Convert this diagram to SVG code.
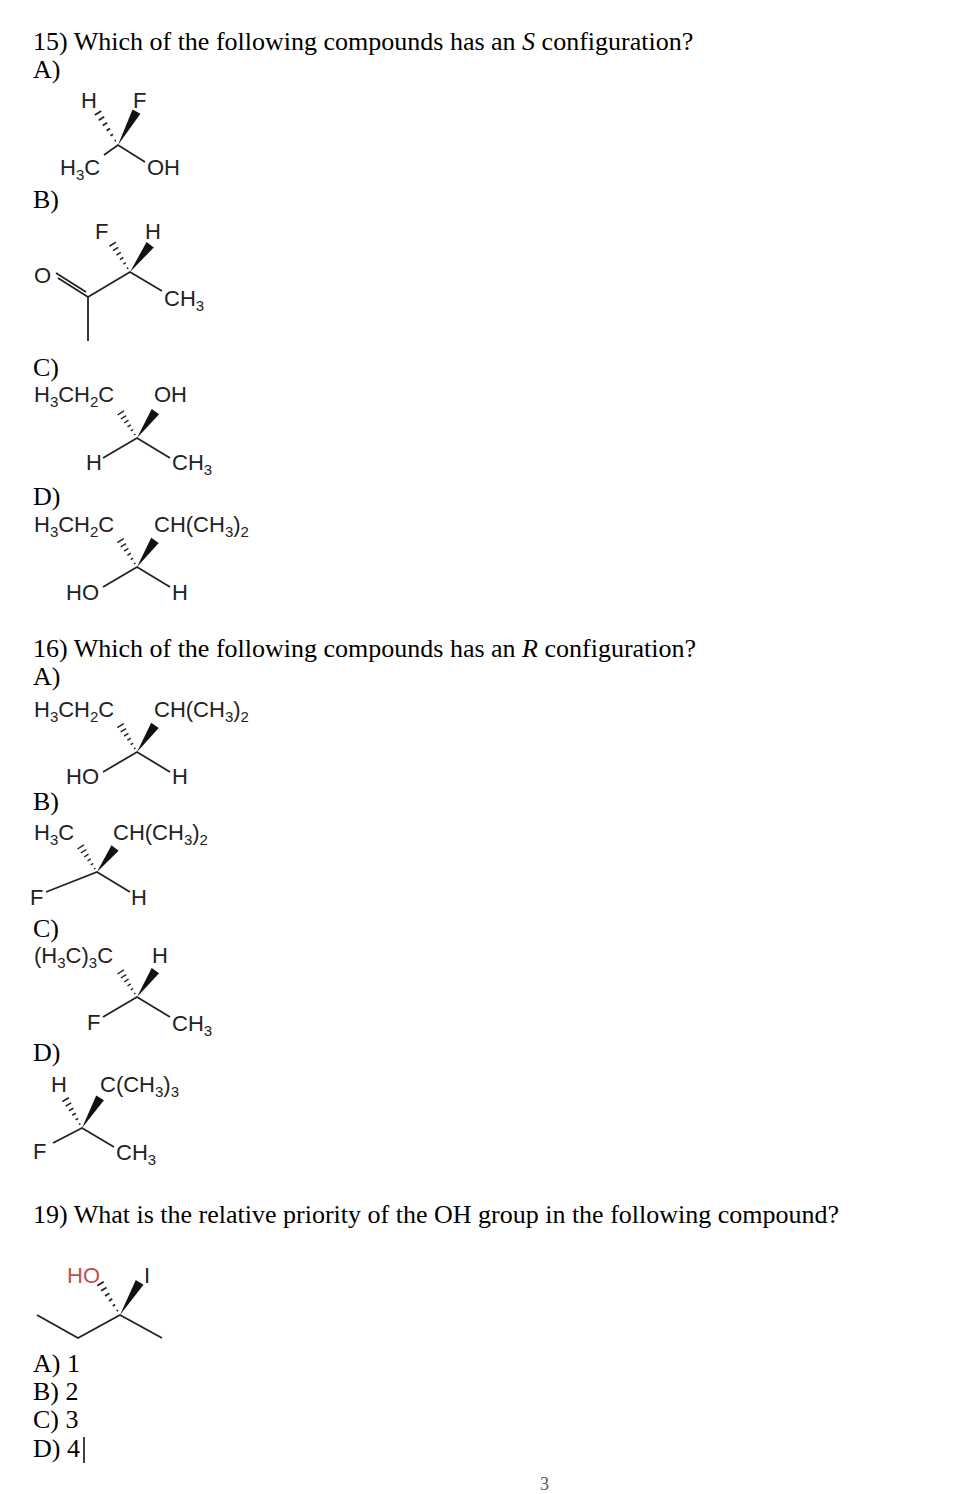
<svg xmlns="http://www.w3.org/2000/svg" xmlns:xlink="http://www.w3.org/1999/xlink" width="960" height="1494" viewBox="0 0 960 1494">
<style>
.q{font-family:"Liberation Serif",serif;font-size:26px;fill:#000}
.l{font-family:"Liberation Sans",Arial,sans-serif;font-size:22px;fill:#222}
.s{font-size:15px}
.b{stroke:#222;stroke-width:1.8;fill:none}
</style>
<defs>
<g id="hw" stroke="#222" stroke-width="1.4">
<line x1="4" y1="-0.8" x2="4" y2="0.8"/><line x1="9" y1="-1.4" x2="9" y2="1.4"/><line x1="14" y1="-2" x2="14" y2="2"/><line x1="19" y1="-2.6" x2="19" y2="2.6"/><line x1="24" y1="-3.2" x2="24" y2="3.2"/><line x1="29" y1="-3.8" x2="29" y2="3.8"/>
</g>
<polygon id="sw" points="0,0 30,-4.5 30,4.5" fill="#111"/>
</defs>
<rect width="960" height="1494" fill="#fff"/>

<text class="q" x="33" y="50">15) Which of the following compounds has an <tspan font-style="italic">S</tspan> configuration?</text>
<text class="q" x="33" y="78">A)</text>
<g id="q15a">
<use xlink:href="#hw" transform="translate(118,145) rotate(-122) scale(1.3,1)"/>
<use xlink:href="#sw" transform="translate(118,145) rotate(-61) scale(1.27,1)"/>
<path class="b" d="M104,155 L118,145 L145,162"/>
<text class="l" x="81" y="108">H</text><text class="l" x="133" y="108">F</text>
<text class="l" x="60" y="175">H<tspan class="s" dy="5">3</tspan><tspan dy="-5">C</tspan></text>
<text class="l" x="147" y="175">OH</text>
</g>
<text class="q" x="33" y="208">B)</text>
<g id="q15b">
<use xlink:href="#hw" transform="translate(130,272) rotate(-122) scale(1.13,1)"/>
<use xlink:href="#sw" transform="translate(130,272) rotate(-53.5) scale(1.13,1)"/>
<path class="b" d="M88,297 L130,272 L162,291"/>
<path class="b" d="M88,297 L58,278 M86,292 L56,273"/>
<path class="b" d="M88,297 L88,341"/>
<text class="l" x="34" y="283">O</text>
<text class="l" x="95" y="239">F</text><text class="l" x="145" y="239">H</text>
<text class="l" x="164" y="306">CH<tspan class="s" dy="5">3</tspan></text>
</g>
<text class="q" x="33" y="376">C)</text>
<g id="q15c">
<use xlink:href="#hw" transform="translate(137,438) rotate(-123) scale(1.03,1)"/>
<use xlink:href="#sw" transform="translate(137,438) rotate(-55) scale(1.07,1)"/>
<path class="b" d="M103,458 L137,438 L170,458"/>
<text class="l" x="34" y="402">H<tspan class="s" dy="5">3</tspan><tspan dy="-5">CH</tspan><tspan class="s" dy="5">2</tspan><tspan dy="-5">C</tspan></text>
<text class="l" x="154" y="402">OH</text>
<text class="l" x="86" y="470">H</text>
<text class="l" x="172" y="470">CH<tspan class="s" dy="5">3</tspan></text>
</g>
<text class="q" x="33" y="505">D)</text>
<g id="q15d">
<use xlink:href="#hw" transform="translate(137,567) rotate(-122) scale(1.07,1)"/>
<use xlink:href="#sw" transform="translate(137,567) rotate(-56) scale(1.07,1)"/>
<path class="b" d="M103,587 L137,567 L170,587"/>
<text class="l" x="34" y="532">H<tspan class="s" dy="5">3</tspan><tspan dy="-5">CH</tspan><tspan class="s" dy="5">2</tspan><tspan dy="-5">C</tspan></text>
<text class="l" x="154" y="532">CH(CH<tspan class="s" dy="5">3</tspan><tspan dy="-5">)</tspan><tspan class="s" dy="5">2</tspan></text>
<text class="l" x="66" y="600">HO</text>
<text class="l" x="172" y="600">H</text>
</g>

<text class="q" x="33" y="657">16) Which of the following compounds has an <tspan font-style="italic">R</tspan> configuration?</text>
<text class="q" x="33" y="685">A)</text>
<g id="q16a">
<use xlink:href="#hw" transform="translate(137,752) rotate(-122) scale(1.07,1)"/>
<use xlink:href="#sw" transform="translate(137,752) rotate(-56) scale(1.07,1)"/>
<path class="b" d="M103,772 L137,752 L170,772"/>
<text class="l" x="34" y="717">H<tspan class="s" dy="5">3</tspan><tspan dy="-5">CH</tspan><tspan class="s" dy="5">2</tspan><tspan dy="-5">C</tspan></text>
<text class="l" x="154" y="717">CH(CH<tspan class="s" dy="5">3</tspan><tspan dy="-5">)</tspan><tspan class="s" dy="5">2</tspan></text>
<text class="l" x="66" y="784">HO</text>
<text class="l" x="172" y="784">H</text>
</g>
<text class="q" x="33" y="810">B)</text>
<g id="q16b">
<use xlink:href="#hw" transform="translate(97,872) rotate(-123) scale(1.03,1)"/>
<use xlink:href="#sw" transform="translate(97,872) rotate(-53) scale(1.0,1)"/>
<path class="b" d="M46,892 L97,872 L130,892"/>
<text class="l" x="34" y="840">H<tspan class="s" dy="5">3</tspan><tspan dy="-5">C</tspan></text>
<text class="l" x="113" y="840">CH(CH<tspan class="s" dy="5">3</tspan><tspan dy="-5">)</tspan><tspan class="s" dy="5">2</tspan></text>
<text class="l" x="30" y="905">F</text>
<text class="l" x="131" y="905">H</text>
</g>
<text class="q" x="33" y="937">C)</text>
<g id="q16c">
<use xlink:href="#hw" transform="translate(137,997) rotate(-123) scale(1.03,1)"/>
<use xlink:href="#sw" transform="translate(137,997) rotate(-55) scale(1.07,1)"/>
<path class="b" d="M103,1017 L137,997 L170,1017"/>
<text class="l" x="34" y="963">(H<tspan class="s" dy="5">3</tspan><tspan dy="-5">C)</tspan><tspan class="s" dy="5">3</tspan><tspan dy="-5">C</tspan></text>
<text class="l" x="152" y="963">H</text>
<text class="l" x="87" y="1030">F</text>
<text class="l" x="172" y="1031">CH<tspan class="s" dy="5">3</tspan></text>
</g>
<text class="q" x="33" y="1061">D)</text>
<g id="q16d">
<use xlink:href="#hw" transform="translate(82,1128) rotate(-120) scale(1.13,1)"/>
<use xlink:href="#sw" transform="translate(82,1128) rotate(-59) scale(1.17,1)"/>
<path class="b" d="M53,1143 L82,1128 L114,1147"/>
<text class="l" x="51" y="1092">H</text>
<text class="l" x="100" y="1092">C(CH<tspan class="s" dy="5">3</tspan><tspan dy="-5">)</tspan><tspan class="s" dy="5">3</tspan></text>
<text class="l" x="33" y="1159">F</text>
<text class="l" x="116" y="1160">CH<tspan class="s" dy="5">3</tspan></text>
</g>

<text class="q" x="33" y="1223">19) What is the relative priority of the OH group in the following compound?</text>
<g id="q19">
<use xlink:href="#hw" transform="translate(120,1315) rotate(-122) scale(1.27,1)"/>
<use xlink:href="#sw" transform="translate(120,1315) rotate(-59) scale(1.27,1)"/>
<path class="b" d="M37,1315 L78,1338 L120,1315 L162,1338"/>
<text class="l" x="67" y="1283" style="fill:#c0504d">HO</text>
<text class="l" x="144" y="1283">I</text>
</g>
<text class="q" x="33" y="1372">A) 1</text>
<text class="q" x="33" y="1400">B) 2</text>
<text class="q" x="33" y="1428">C) 3</text>
<text class="q" x="33" y="1457">D) 4</text>
<line x1="84" y1="1437" x2="84" y2="1463" stroke="#000" stroke-width="1.5"/>
<text x="540" y="1490" style="font-family:'Liberation Serif',serif;font-size:18px;fill:#555">3</text>
</svg>
